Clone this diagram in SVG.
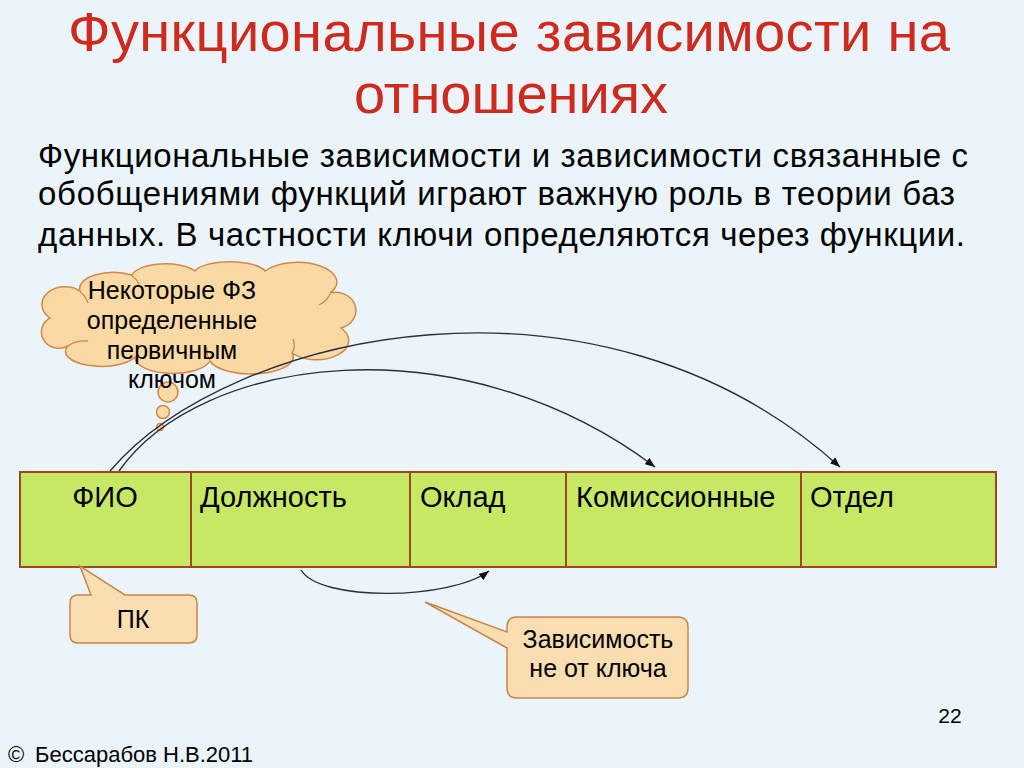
<svg xmlns="http://www.w3.org/2000/svg" width="1024" height="768" viewBox="0 0 1024 768">
<defs>
<marker id="ah" markerWidth="10" markerHeight="8" refX="10" refY="4" orient="auto" markerUnits="userSpaceOnUse">
<path d="M0,0 L10,4 L0,8 z" fill="#111"/>
</marker>
<style>
.t{font-family:"Liberation Sans",Arial,sans-serif;fill:#000}
.title{font-family:"Liberation Sans",Arial,sans-serif;fill:#CF2A1E;font-size:56px;text-anchor:middle}
.body{font-size:33px}
.cell{fill:#C6E865;stroke:#A0461E;stroke-width:2}
.ctext{font-size:29px}
.call{fill:#FADDB0;stroke:#C8864A;stroke-width:1.5}
.cl{fill:#FBD9A4;stroke:#D4874A;stroke-width:1.5}
.inner{fill:none;stroke:#D4874A;stroke-width:1.3}
.con{fill:none;stroke:#2A2F3A;stroke-width:1.4}
.ct{font-size:25px;text-anchor:middle}
</style>
</defs>
<rect width="1024" height="768" fill="#EAF4FA"/>
<g id="title">
<text class="title" x="509" y="51" textLength="882" lengthAdjust="spacing">Функциональные зависимости на</text>
<text class="title" x="511" y="113">отношениях</text>
</g>
<g id="body">
<text class="t body" x="38" y="167" textLength="930" lengthAdjust="spacing">Функциональные зависимости и зависимости связанные с</text>
<text class="t body" x="38" y="205" textLength="917" lengthAdjust="spacing">обобщениями функций играют важную роль в теории баз</text>
<text class="t body" x="38" y="246" textLength="927" lengthAdjust="spacing">данных. В частности ключи определяются через функции.</text>
</g>
<g id="cloud">
<path class="cl" d="M 50 318 A 22 17 0 0 1 80 291 A 34 16 0 0 1 132 275 A 34 14 0 0 1 195 271 A 36 12 0 0 1 265 271 A 36 18 0 0 1 330 293 A 18 16 0 0 1 341 328 A 30 18 0 0 1 292 353 A 40 16 0 0 1 210 361 A 38 16 0 0 1 135 357 A 34 14 0 0 1 68 346 A 14 13 0 0 1 50 318 Z"/>
<path class="inner" d="M 68 346 Q 76 340 88 341 M 80 292 Q 86 296 88 303 M 132 276 Q 137 279 139 285 M 330 294 Q 327 301 319 305 M 292 353 Q 296 347 293 339 M 210 360 Q 206 355 207 348"/>
<circle class="cl" cx="168" cy="392" r="10"/>
<circle class="cl" cx="163" cy="412" r="6.5"/>
<circle class="cl" cx="160" cy="427" r="3.5"/>
<text class="t ct" x="172" y="299">Некоторые ФЗ</text>
<text class="t ct" x="172" y="329">определенные</text>
<text class="t ct" x="172" y="359">первичным</text>
<text class="t ct" x="172" y="388">ключом</text>
</g>
<g id="connectors">
<path class="con" d="M 110 471 C 230 330, 600 250, 840 467" marker-end="url(#ah)"/>
<path class="con" d="M 119 471 C 200 355, 460 320, 655 467" marker-end="url(#ah)"/>
<path class="con" d="M 301 570 C 320 602, 450 600, 489 571" marker-end="url(#ah)"/>
</g>
<g id="fio"><rect class="cell" x="20" y="472" width="171" height="95"/><text class="t ctext" x="105" y="507" text-anchor="middle">ФИО</text></g>
<g id="dolzhnost"><rect class="cell" x="191" y="472" width="219" height="95"/><text class="t ctext" x="200" y="507">Должность</text></g>
<g id="oklad"><rect class="cell" x="410" y="472" width="156" height="95"/><text class="t ctext" x="420" y="507">Оклад</text></g>
<g id="komissionnye"><rect class="cell" x="566" y="472" width="235" height="95"/><text class="t ctext" x="576" y="507">Комиссионные</text></g>
<g id="otdel"><rect class="cell" x="801" y="472" width="195" height="95"/><text class="t ctext" x="810" y="507">Отдел</text></g>
<g id="pk">
<path class="call" d="M 78 595 L 91 595 L 80 566 L 125 595 L 189 595 Q 197 595 197 603 L 197 635 Q 197 643 189 643 L 78 643 Q 70 643 70 635 L 70 603 Q 70 595 78 595 Z"/>
<text class="t ct" x="133" y="628">ПК</text>
</g>
<g id="nonkey">
<path class="call" d="M 517 617 L 678 617 Q 688 617 688 627 L 688 688 Q 688 698 678 698 L 517 698 Q 507 698 507 688 L 507 648 L 425 602 L 507 632 L 507 627 Q 507 617 517 617 Z"/>
<text class="t ct" x="598" y="648">Зависимость</text>
<text class="t ct" x="598" y="677">не от ключа</text>
</g>
<text class="t" font-size="21" x="950" y="723" text-anchor="middle">22</text>
<text class="t" font-size="22" x="8" y="762" fill="#555">©</text>
<text class="t" font-size="22" x="35" y="762">Бессарабов Н.В.2011</text>
</svg>
